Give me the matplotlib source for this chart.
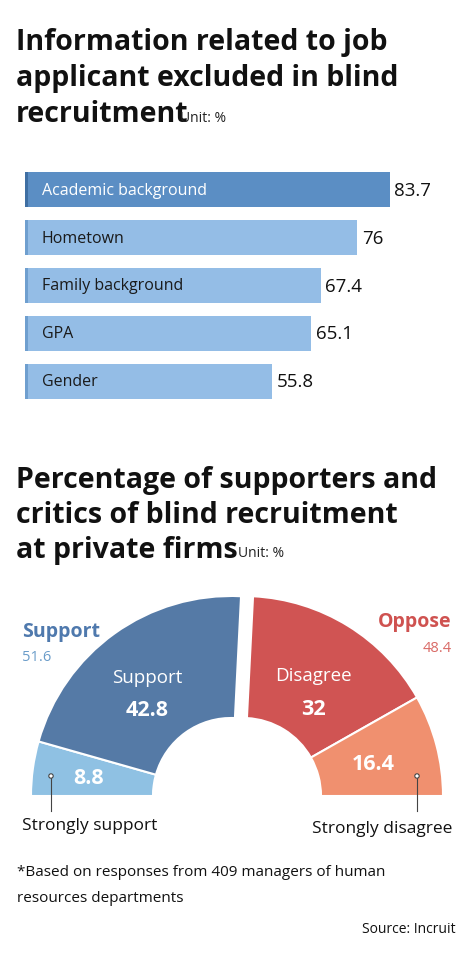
import matplotlib
matplotlib.use("Agg")
import matplotlib.pyplot as plt
from matplotlib.patches import Wedge, Circle

plt.rcParams['font.family'] = ['Open Sans', 'DejaVu Sans']

categories = ["Academic background", "Hometown", "Family background", "GPA", "Gender"]
values = [83.7, 76, 67.4, 65.1, 55.8]
pie_labels = ["Strongly support", "Support", "Disagree", "Strongly disagree"]
pie_values = [8.8, 42.8, 32, 16.4]
support_total, oppose_total = 51.6, 48.4

W, H = 474, 962
fig = plt.figure(figsize=(W/100, H/100), dpi=100)
fig.patch.set_facecolor("white")

ov = fig.add_axes([0, 0, 1, 1])
ov.set_xlim(0, W); ov.set_ylim(H, 0); ov.axis("off")

for i, t in enumerate(["Information related to job", "applicant excluded in blind", "recruitment"]):
    ov.text(16, 50 + i*36, t, fontsize=20.5, fontweight="bold", color="#111", va="baseline")
ov.text(180, 122, "Unit: %", fontsize=10, color="#222", va="baseline")
for i, t in enumerate(["Percentage of supporters and", "critics of blind recruitment", "at private firms"]):
    ov.text(16, 488 + i*35, t, fontsize=20.5, fontweight="bold", color="#111", va="baseline")
ov.text(238, 557, "Unit: %", fontsize=10, color="#222", va="baseline")

x0, x1 = 25, 474
bar_top, bar_bot = 160, 413
bx = fig.add_axes([x0/W, 1-bar_bot/H, (x1-x0)/W, (bar_bot-bar_top)/H])
scale = 4.23
zero = 36
off = (zero-x0)/scale
bx.set_xlim(-off, (x1-zero)/scale)
ypos = list(range(len(values)))
colors = ["#5b8ec4"] + ["#94bde6"]*(len(values)-1)
bx.barh(ypos, [v + off for v in values], left=-off, height=0.72, color=colors)
bx.barh(ypos, [0.7]*len(values), left=-off, height=0.72,
        color=["#3f6fa3"] + ["#6f9fcf"]*(len(values)-1))
bx.set_ylim(len(values)-0.5+0.14, -0.5-0.14)
bx.axis("off")
for i, (c, v) in enumerate(zip(categories, values)):
    bx.text(-off + 4.0, i, c, fontsize=11.5, va="center",
            color="white" if i == 0 else "#1a1a1a")
    bx.text(v + 1.0, i, f"{v:g}", fontsize=13.5, va="center", color="#111")

cx, cy, R, r = 237, 797, 200, 78
pcols = ["#8fc1e3", "#557aa6", "#d05453", "#f0906f"]
total = sum(pie_values)
ang = 180.0
for i, v in enumerate(pie_values):
    span = v/total*180
    dx = -6 if i < 2 else 6
    ov.add_patch(Wedge((cx+dx, cy), R, -ang, -(ang-span), width=R-r,
                       facecolor=pcols[i], edgecolor="white", linewidth=1.5))
    ang -= span

ov.text(22, 637, "Support", fontsize=14, fontweight="bold", color="#4f79ad", va="baseline")
ov.text(22, 661, f"{support_total:g}", fontsize=10.5, color="#6a9cc9", va="baseline")
ov.text(452, 627, "Oppose", fontsize=14, fontweight="bold", color="#cf5250", va="baseline", ha="right")
ov.text(452, 652, f"{oppose_total:g}", fontsize=10.5, color="#d96a66", va="baseline", ha="right")

ov.text(147, 678, "Support", fontsize=13.5, color="white", ha="center", va="center")
ov.text(147, 711, f"{pie_values[1]:g}", fontsize=15.5, fontweight="bold", color="white", ha="center", va="center")
ov.text(313, 676, "Disagree", fontsize=13.5, color="white", ha="center", va="center")
ov.text(313, 710, f"{pie_values[2]:g}", fontsize=15.5, fontweight="bold", color="white", ha="center", va="center")
ov.text(89, 779, f"{pie_values[0]:g}", fontsize=15.5, fontweight="bold", color="white", ha="center", va="center")
ov.text(373, 765, f"{pie_values[3]:g}", fontsize=15.5, fontweight="bold", color="white", ha="center", va="center")

for px, tx, ty, ha, lab in [(51, 22, 830, "left", pie_labels[0]), (417, 452, 833, "right", pie_labels[3])]:
    ov.plot([px, px], [778, 812], color="#444", lw=0.8)
    ov.add_patch(Circle((px, 777), 2.2, facecolor="white", edgecolor="#444", lw=0.8, zorder=5))
    ov.text(tx, ty, lab, fontsize=12.5, color="#111", ha=ha, va="baseline")

ov.text(17, 876, "*Based on responses from 409 managers of human", fontsize=11, color="#111", va="baseline")
ov.text(17, 902, "resources departments", fontsize=11, color="#111", va="baseline")
ov.text(456, 933, "Source: Incruit", fontsize=10, color="#111", va="baseline", ha="right")

fig.savefig("out.png", dpi=100, facecolor="white")
